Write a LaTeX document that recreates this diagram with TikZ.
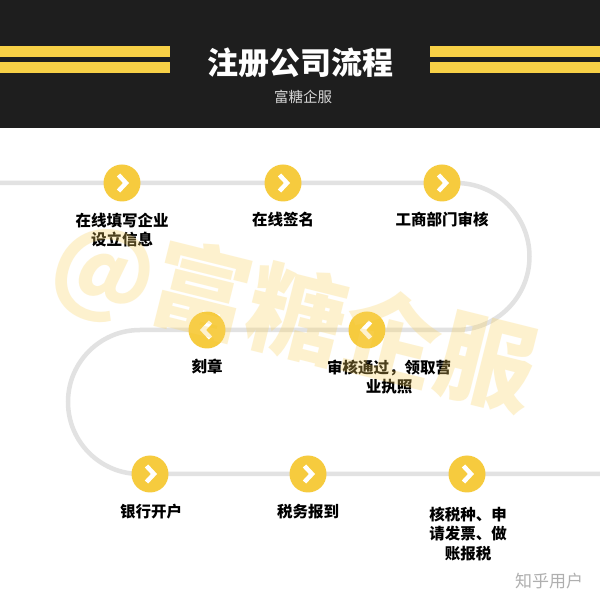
\documentclass[tikz,border=0pt]{standalone}
\usepackage{fontspec}
\newfontfamily\cjk{Noto Sans CJK SC}
\usetikzlibrary{calc}
\definecolor{hdr}{RGB}{30,30,30}
\definecolor{stripe}{RGB}{247,208,70}
\definecolor{dot}{RGB}{246,203,62}
\definecolor{track}{RGB}{226,226,226}
\definecolor{wm}{RGB}{250,210,95}
\definecolor{subg}{RGB}{215,215,215}
\definecolor{zhg}{RGB}{175,175,175}
\tikzset{
  x=1pt,y=1pt,
  trackline/.style={draw=track,line width=4.5pt},
  stepdot/.style={circle,fill=dot,minimum size=37pt,inner sep=0pt},
  chev/.style={draw=white,line width=4.5pt,line join=miter},
  lbl/.style={font=\cjk\bfseries\fontsize{15.5}{19.5}\selectfont,align=center,text=black,inner sep=0pt},
}
\newcommand{\chevR}[1]{\draw[chev] ($(#1)+(-3.5,8)$) -- ($(#1)+(4,0)$) -- ($(#1)+(-3.5,-8)$);}
\newcommand{\chevL}[1]{\draw[chev] ($(#1)+(3.5,8)$) -- ($(#1)+(-4,0)$) -- ($(#1)+(3.5,-8)$);}
\begin{document}
\begin{tikzpicture}
\useasboundingbox (0,0) rectangle (600,600);
\fill[white] (0,0) rectangle (600,600);
% header
\fill[hdr] (0,472) rectangle (600,600);
\fill[stripe] (0,543) rectangle (170,554);
\fill[stripe] (0,527) rectangle (170,538);
\fill[stripe] (430,543) rectangle (600,554);
\fill[stripe] (430,527) rectangle (600,538);
\node[text=white,font=\cjk\bfseries\fontsize{31}{34}\selectfont] (title) at (300,537) {注册公司流程};
\node[text=subg,font=\cjk\fontsize{14.5}{16}\selectfont] (sub) at (303,503) {富糖企服};
% track
\coordinate (t0) at (0,417);
\coordinate (t1) at (456,417);
\coordinate (t2) at (140,270);
\coordinate (t3) at (600,126);
\draw[trackline] (t0) -- (t1) arc (90:-90:73.5pt) -- (t2) arc (90:270:72pt) -- (t3);
% steps
\node[stepdot] (s1) at (122,417) {};
\node[stepdot] (s2) at (283,417) {};
\node[stepdot] (s3) at (442,417) {};
\node[stepdot] (s4) at (367,270) {};
\node[stepdot] (s5) at (207,270) {};
\node[stepdot] (s6) at (150,126) {};
\node[stepdot] (s7) at (308,126) {};
\node[stepdot] (s8) at (467,126) {};
\chevR{s1}\chevR{s2}\chevR{s3}
\chevL{s4}\chevL{s5}
\chevR{s6}\chevR{s7}\chevR{s8}
% labels
\node[lbl] (l1) at (122,370) {在线填写企业\\设立信息};
\node[lbl] (l2) at (283,380) {在线签名};
\node[lbl] (l3) at (442,380) {工商部门审核};
\node[lbl] (l4) at (389,223) {审核通过，领取营\\业执照};
\node[lbl] (l5) at (207,233) {刻章};
\node[lbl] (l6) at (151,88) {银行开户};
\node[lbl] (l7) at (308,88) {税务报到};
\node[lbl] (l8) at (468,66) {核税种、申\\请发票、做\\账报税};
% footer mark
\node[text=zhg,font=\cjk\fontsize{17}{18}\selectfont] (zh) at (549,19) {知乎用户};
% watermark
\node[text=wm,text opacity=0.3,rotate=-14,font=\cjk\bfseries\fontsize{98}{104}\selectfont] (wmk) at (294,282) {@富糖企服};
\end{tikzpicture}
\end{document}
